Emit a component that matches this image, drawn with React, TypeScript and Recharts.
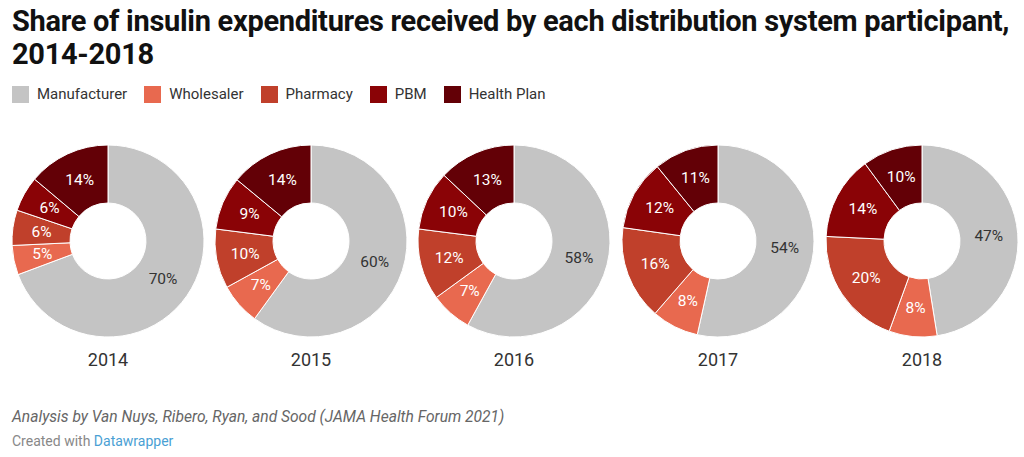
import React from 'react';
import { PieChart, Pie, Cell } from 'recharts';

const categories = ['Manufacturer', 'Wholesaler', 'Pharmacy', 'PBM', 'Health Plan'];
const colors = ['#c4c4c4', '#e8694f', '#c0402b', '#8a0306', '#630006'];
const years = ['2014', '2015', '2016', '2017', '2018'];
const manufacturer = [70, 60, 58, 54, 47];
const wholesaler = [5, 7, 7, 8, 8];
const pharmacy = [6, 10, 12, 16, 20];
const pbm = [6, 9, 10, 12, 14];
const healthPlan = [14, 14, 13, 11, 10];

const series = [manufacturer, wholesaler, pharmacy, pbm, healthPlan];
const pieData = years.map((y, yi) =>
  categories.map((c, ci) => ({ name: c, value: series[ci][yi], idx: ci }))
);

const CENTERS = [108, 311, 514, 718, 922];
const CY = 110;
const RAD = Math.PI / 180;

const renderLabel = (props: any) => {
  const { cx, cy, midAngle, innerRadius, outerRadius, value, payload } = props;
  const r = (innerRadius + outerRadius) / 2;
  const x = cx + r * Math.cos(-midAngle * RAD);
  const y = cy + r * Math.sin(-midAngle * RAD);
  const idx = payload && payload.idx !== undefined ? payload.idx : (props.idx ?? 0);
  return (
    <text x={x} y={y} textAnchor="middle" dominantBaseline="central"
      fill={idx === 0 ? '#333333' : '#ffffff'} fontSize={15.5} fontFamily="Roboto">
      {value}%
    </text>
  );
};

export default function App() {
  return (
    <div style={{ position: 'absolute', left: 0, top: 0, width: 1024, height: 457, background: '#fff', fontFamily: 'Roboto', overflow: 'hidden' }}>
      <div style={{ position: 'absolute', left: 12, top: 5, width: 1012, fontSize: 29, fontWeight: 700, lineHeight: '33px', color: '#111', letterSpacing: '-0.3px', whiteSpace: 'nowrap' }}>
        Share of insulin expenditures received by each distribution system participant,<br />2014-2018
      </div>
      <div style={{ position: 'absolute', left: 12, top: 85, display: 'flex', alignItems: 'center', fontSize: 15, color: '#333' }}>
        {categories.map((c, i) => (
          <div key={c} style={{ display: 'flex', alignItems: 'center', marginRight: 17 }}>
            <div style={{ width: 17, height: 17, background: colors[i], marginRight: 8 }} />
            <span>{c}</span>
          </div>
        ))}
      </div>
      <div style={{ position: 'absolute', left: 0, top: 131 }}>
        <PieChart width={1024} height={250} margin={{ top: 0, right: 0, bottom: 0, left: 0 }}>
          {pieData.map((d, yi) => (
            <Pie key={years[yi]} data={d} dataKey="value" nameKey="name"
              cx={CENTERS[yi]} cy={CY} innerRadius={38} outerRadius={96}
              startAngle={90} endAngle={-270} stroke="#ffffff" strokeWidth={1}
              isAnimationActive={false} labelLine={false} label={renderLabel}>
              {d.map((e, i) => <Cell key={i} fill={colors[i]} />)}
            </Pie>
          ))}
        </PieChart>
      </div>
      {years.map((y, i) => (
        <div key={y} style={{ position: 'absolute', left: CENTERS[i] - 40, width: 80, top: 349, textAlign: 'center', fontSize: 18, color: '#333' }}>{y}</div>
      ))}
      <div style={{ position: 'absolute', left: 12, top: 408, fontSize: 15.6, fontStyle: 'italic', color: '#666' }}>
        Analysis by Van Nuys, Ribero, Ryan, and Sood (JAMA Health Forum 2021)
      </div>
      <div style={{ position: 'absolute', left: 12, top: 433, fontSize: 14, color: '#888' }}>
        Created with <span style={{ color: '#4a9fd4' }}>Datawrapper</span>
      </div>
    </div>
  );
}
